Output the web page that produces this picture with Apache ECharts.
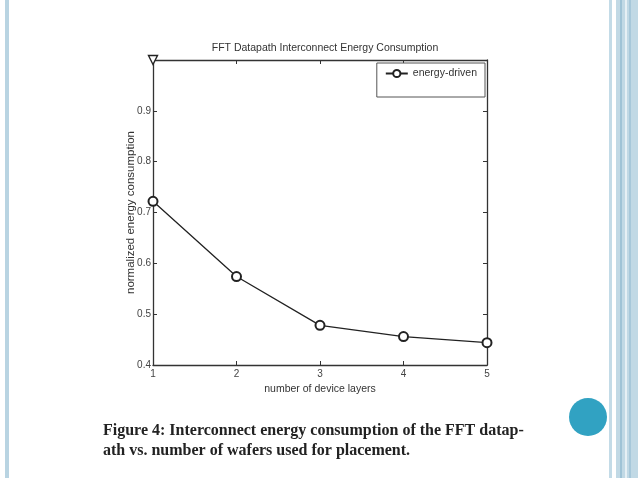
<!DOCTYPE html>
<html>
<head>
<meta charset="utf-8">
<script src="https://cdn.jsdelivr.net/npm/echarts@6/dist/echarts.min.js"></script>
<style>
  html, body { margin: 0; padding: 0; background: #fff; }
  #chart { width: 638px; height: 478px; }
</style>
</head>
<body>
<div id="chart"></div>
<script>
// number of device layers vs normalized energy
const layers = [1, 2, 3, 4, 5];
const energyDriven = [0.722, 0.574, 0.478, 0.456, 0.444];
const baselineLayer = [1];
const baselineValue = [1.0];
const yTicks = [0.4, 0.5, 0.6, 0.7, 0.8, 0.9];

const chart = echarts.init(document.getElementById('chart'));

const axisLine = { show: true, lineStyle: { color: '#333', width: 1.3 } };
const innerTicks = { show: true, inside: true, length: 4, lineStyle: { color: '#333' } };
const labelStyle = { color: '#444', fontSize: 10, fontFamily: 'Liberation Sans' };

const option = {
  animation: false,
  backgroundColor: '#fff',
  title: {
    text: 'FFT Datapath Interconnect Energy Consumption',
    left: 320,
    textAlign: 'center',
    top: 38,
    textStyle: { color: '#333', fontSize: 10.5, fontWeight: 'normal', fontFamily: 'Liberation Sans' }
  },
  legend: {
    data: ['energy-driven'],
    right: 153,
    top: 63,
    orient: 'vertical',
    backgroundColor: '#fff',
    borderColor: '#555',
    borderWidth: 1,
    padding: [5, 8, 18, 8],
    itemWidth: 22,
    itemHeight: 9,
    textStyle: { color: '#333', fontSize: 10.5, fontFamily: 'Liberation Sans' }
  },
  grid: { left: 153, right: 151, top: 60, bottom: 113 },
  xAxis: [
    {
      type: 'value', min: 1, max: 5, interval: 1,
      name: 'number of device layers', nameLocation: 'middle', nameGap: 15,
      nameTextStyle: { color: '#333', fontSize: 10.5, fontFamily: 'Liberation Sans' },
      axisLine, axisTick: innerTicks,
      axisLabel: Object.assign({ margin: 4 }, labelStyle),
      splitLine: { show: false }
    },
    {
      type: 'value', position: 'top', min: 1, max: 5, interval: 1,
      axisLine, axisTick: innerTicks, axisLabel: { show: false }, splitLine: { show: false }
    }
  ],
  yAxis: [
    {
      type: 'value', min: 0.4, max: 1.0, interval: 0.1,
      name: 'normalized energy consumption', nameLocation: 'middle', nameGap: 16,
      nameMoveOverlap: false,
      nameTextStyle: { color: '#333', fontSize: 11.5, fontFamily: 'Liberation Sans' },
      axisLine, axisTick: innerTicks,
      axisLabel: Object.assign({
        margin: 2,
        formatter: (v) => {
          const t = yTicks.find((y) => Math.abs(y - v) < 1e-6);
          return t === undefined ? '' : String(t);
        }
      }, labelStyle),
      splitLine: { show: false }
    },
    {
      type: 'value', position: 'right', min: 0.4, max: 1.0, interval: 0.1,
      axisLine, axisTick: innerTicks, axisLabel: { show: false }, splitLine: { show: false }
    }
  ],
  series: [
    {
      name: 'energy-driven',
      type: 'line',
      data: layers.map((x, i) => [x, energyDriven[i]]),
      symbol: 'emptyCircle',
      symbolSize: 9,
      lineStyle: { color: '#222', width: 1.3 },
      itemStyle: { color: '#222', borderWidth: 1.4 }
    },
    {
      name: 'baseline',
      type: 'line',
      data: baselineLayer.map((x, i) => [x, baselineValue[i]]),
      symbol: 'triangle',
      symbolRotate: 180,
      symbolSize: 9,
      itemStyle: { color: '#fff', borderColor: '#222', borderWidth: 1.4 }
    }
  ],
  graphic: [
    { type: 'rect', shape: { x: 5, y: 0, width: 4, height: 478 }, style: { fill: '#b9d4e2' }, silent: true },
    { type: 'rect', shape: { x: 609, y: 0, width: 3, height: 478 }, style: { fill: '#c3dbe7' }, silent: true },
    { type: 'rect', shape: { x: 616, y: 0, width: 22, height: 478 }, style: { fill: '#c1d9e5' }, silent: true },
    { type: 'rect', shape: { x: 620, y: 0, width: 2, height: 478 }, style: { fill: '#9fc3d6' }, silent: true },
    { type: 'rect', shape: { x: 625, y: 0, width: 2, height: 478 }, style: { fill: '#e6f0f5' }, silent: true },
    { type: 'rect', shape: { x: 629, y: 0, width: 2, height: 478 }, style: { fill: '#a7c8da' }, silent: true },
    { type: 'circle', shape: { cx: 588, cy: 417, r: 19 }, style: { fill: '#31a2c2' }, silent: true },
    {
      type: 'text', left: 103, top: 421, silent: true,
      style: {
        text: 'Figure 4: Interconnect energy consumption of the FFT datap-\nath vs. number of wafers used for placement.',
        fill: '#222', font: 'bold 16px "Liberation Serif"', lineHeight: 20
      }
    }
  ]
};

chart.setOption(option);
</script>
</body>
</html>
